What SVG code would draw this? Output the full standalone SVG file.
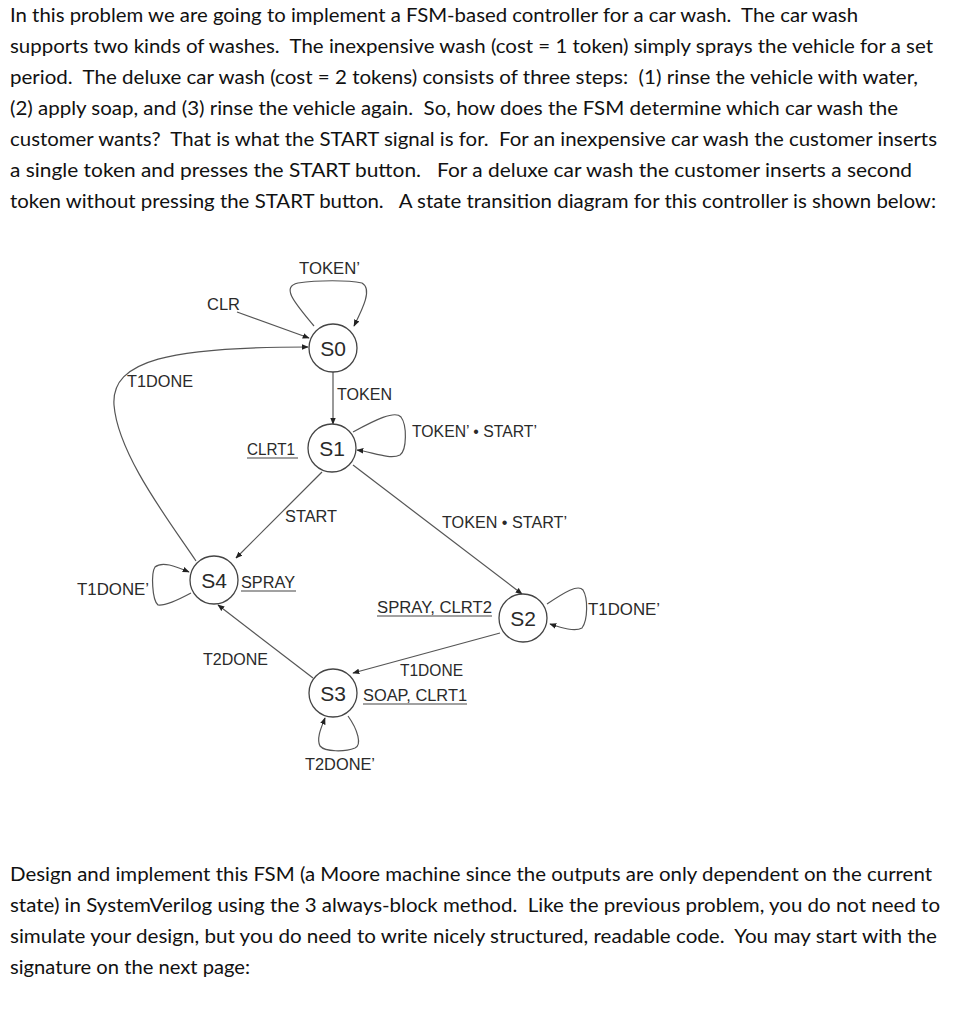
<svg xmlns="http://www.w3.org/2000/svg" width="980" height="1024" viewBox="0 0 980 1024">
<defs>
<marker id="ah" viewBox="0 0 10 10" refX="9" refY="5" markerWidth="7" markerHeight="7" markerUnits="userSpaceOnUse" orient="auto">
<path d="M0,1 L10,5 L0,9 z" fill="#222"/>
</marker>
</defs>
<style>
.p{font-family:Lato,"Open Sans",sans-serif;font-size:18.5px;fill:#111;white-space:pre}
.l{font-family:"Liberation Sans",Arial,sans-serif;font-size:16px;fill:#2a2a2a}
.s{font-family:"Liberation Sans",Arial,sans-serif;font-size:21px;fill:#2a2a2a;text-anchor:middle}
.n{fill:#fff;stroke:#444;stroke-width:1.3}
.e{fill:none;stroke:#555;stroke-width:1.2;marker-end:url(#ah)}
.u{stroke:#444;stroke-width:1.1}
</style>
<rect width="980" height="1024" fill="#fff"/>
<g id="intro">
<text class="p" x="10" y="22" textLength="848" lengthAdjust="spacingAndGlyphs">In this problem we are going to implement a FSM-based controller for a car wash.  The car wash</text>
<text class="p" x="10" y="53" textLength="923" lengthAdjust="spacingAndGlyphs">supports two kinds of washes.  The inexpensive wash (cost = 1 token) simply sprays the vehicle for a set</text>
<text class="p" x="10" y="84" textLength="908" lengthAdjust="spacingAndGlyphs">period.  The deluxe car wash (cost = 2 tokens) consists of three steps:  (1) rinse the vehicle with water,</text>
<text class="p" x="10" y="115" textLength="888" lengthAdjust="spacingAndGlyphs">(2) apply soap, and (3) rinse the vehicle again.  So, how does the FSM determine which car wash the</text>
<text class="p" x="10" y="146" textLength="927" lengthAdjust="spacingAndGlyphs">customer wants?  That is what the START signal is for.  For an inexpensive car wash the customer inserts</text>
<text class="p" x="10" y="177" textLength="902" lengthAdjust="spacingAndGlyphs">a single token and presses the START button.   For a deluxe car wash the customer inserts a second</text>
<text class="p" x="10" y="208" textLength="926" lengthAdjust="spacingAndGlyphs">token without pressing the START button.   A state transition diagram for this controller is shown below:</text>
</g>
<g id="connectors">
<path class="e" d="M237,312 L309,338"/>
<path class="e" d="M314,326 C296,304 280,287 298,283 C318,280 348,280 362,283 C373,289 362,310 354,326"/>
<path class="e" d="M196,561 C170,522 118,455 114,405 C111,360 170,347 308,347"/>
<path class="e" d="M333,372 L333,424"/>
<path class="e" d="M353,432 C375,420 395,410 401,417 C407,425 407,450 400,455 C390,460 372,452 357,450"/>
<path class="e" d="M322,472 L236,558"/>
<path class="e" d="M353,465 L522,594"/>
<path class="e" d="M547,604 C565,592 578,584 583,590 C588,598 588,620 582,628 C575,632 562,628 550,624"/>
<path class="e" d="M500,633 L353,673"/>
<path class="e" d="M313,678 L218,605"/>
<path class="e" d="M348,716 C358,730 362,745 355,748 C345,752 325,752 320,746 C316,738 322,726 325,718"/>
<path class="e" d="M191,593 C178,600 165,606 158,605 C152,600 151,573 155,567 C162,561 175,566 189,572"/>
</g>
<g id="S0"><circle class="n" cx="333" cy="348" r="24"/><text class="s" x="333" y="355.5">S0</text></g>
<g id="S1"><circle class="n" cx="332" cy="448" r="24"/><text class="s" x="332" y="455.5">S1</text></g>
<g id="S4"><circle class="n" cx="214" cy="580" r="24"/><text class="s" x="214" y="587.5">S4</text></g>
<g id="S2"><circle class="n" cx="523" cy="618" r="24"/><text class="s" x="523" y="625.5">S2</text></g>
<g id="S3"><circle class="n" cx="333" cy="693" r="24"/><text class="s" x="333" y="700.5">S3</text></g>
<g id="labels">
<text class="l" x="299" y="274" textLength="61" lengthAdjust="spacingAndGlyphs">TOKEN’</text>
<text class="l" x="207" y="310" textLength="33" lengthAdjust="spacingAndGlyphs">CLR</text>
<text class="l" x="127" y="387" textLength="66" lengthAdjust="spacingAndGlyphs">T1DONE</text>
<text class="l" x="337" y="400" textLength="55" lengthAdjust="spacingAndGlyphs">TOKEN</text>
<text class="l" x="247" y="455" textLength="48" lengthAdjust="spacingAndGlyphs">CLRT1</text><line class="u" x1="247" y1="458" x2="298" y2="458"/>
<text class="l" x="412" y="437" textLength="125" lengthAdjust="spacingAndGlyphs">TOKEN’ • START’</text>
<text class="l" x="285" y="522" textLength="52" lengthAdjust="spacingAndGlyphs">START</text>
<text class="l" x="442" y="528" textLength="125" lengthAdjust="spacingAndGlyphs">TOKEN • START’</text>
<text class="l" x="377" y="613" textLength="115" lengthAdjust="spacingAndGlyphs">SPRAY, CLRT2</text><line class="u" x1="377" y1="616" x2="492" y2="616"/>
<text class="l" x="241" y="588" textLength="54" lengthAdjust="spacingAndGlyphs">SPRAY</text><line class="u" x1="241" y1="591" x2="296" y2="591"/>
<text class="l" x="77" y="595" textLength="72" lengthAdjust="spacingAndGlyphs">T1DONE’</text>
<text class="l" x="203" y="665" textLength="65" lengthAdjust="spacingAndGlyphs">T2DONE</text>
<text class="l" x="588" y="615" textLength="72" lengthAdjust="spacingAndGlyphs">T1DONE’</text>
<text class="l" x="400" y="676" textLength="63" lengthAdjust="spacingAndGlyphs">T1DONE</text>
<text class="l" x="363" y="701" textLength="104" lengthAdjust="spacingAndGlyphs">SOAP, CLRT1</text><line class="u" x1="363" y1="704" x2="467" y2="704"/>
<text class="l" x="305" y="770" textLength="70" lengthAdjust="spacingAndGlyphs">T2DONE’</text>
</g>
<g id="outro">
<text class="p" x="10" y="881" textLength="922" lengthAdjust="spacingAndGlyphs">Design and implement this FSM (a Moore machine since the outputs are only dependent on the current</text>
<text class="p" x="10" y="912" textLength="930" lengthAdjust="spacingAndGlyphs">state) in SystemVerilog using the 3 always-block method.  Like the previous problem, you do not need to</text>
<text class="p" x="10" y="943" textLength="927" lengthAdjust="spacingAndGlyphs">simulate your design, but you do need to write nicely structured, readable code.  You may start with the</text>
<text class="p" x="10" y="974" textLength="240" lengthAdjust="spacingAndGlyphs">signature on the next page:</text>
</g>
</svg>
